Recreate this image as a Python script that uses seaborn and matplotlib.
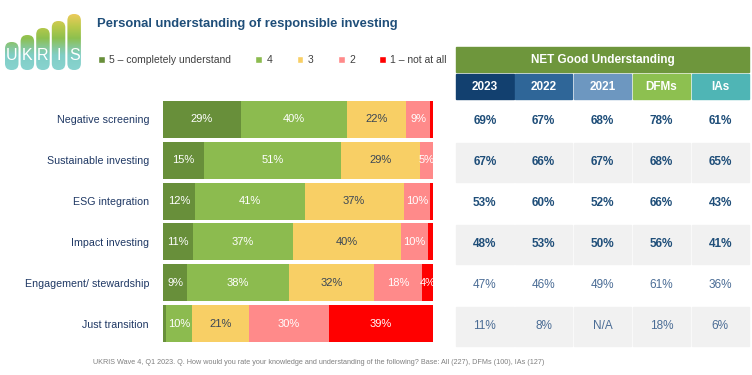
import numpy as np
import pandas as pd
import matplotlib
matplotlib.use("Agg")
import matplotlib.pyplot as plt
import seaborn as sns
from matplotlib.patches import Patch, Rectangle, FancyBboxPatch
from matplotlib.colors import LinearSegmentedColormap

# --- data ---
categories = ["Negative screening", "Sustainable investing", "ESG integration",
              "Impact investing", "Engagement/ stewardship", "Just transition"]
level5 = [29, 15, 12, 11, 9, 1]
level4 = [40, 51, 41, 37, 38, 10]
level3 = [22, 29, 37, 40, 32, 21]
level2 = [9, 5, 10, 10, 18, 30]
level1 = [1, 0, 1, 2, 4, 39]
level_names = ["5 – completely understand", "4", "3", "2", "1 – not at all"]

table_headers = ["2023", "2022", "2021", "DFMs", "IAs"]
net_2023 = ["69%", "67%", "53%", "48%", "47%", "11%"]
net_2022 = ["67%", "66%", "60%", "53%", "46%", "8%"]
net_2021 = ["68%", "67%", "52%", "50%", "49%", "N/A"]
net_dfms = ["78%", "68%", "66%", "56%", "61%", "18%"]
net_ias = ["61%", "65%", "43%", "41%", "36%", "6%"]

level_colors = ["#688F3A", "#8CBB4F", "#F8CF65", "#FF8A8A", "#FF0000"]
header_colors = ["#12406F", "#2F6698", "#6D97C0", "#8DC050", "#4FB5B5"]
navy = "#1F4E79"

sns.set_theme(style="white")
plt.rcParams["font.family"] = ["Liberation Sans", "DejaVu Sans"]

W, H = 752, 375
fig = plt.figure(figsize=(7.52, 3.75), dpi=100)

# background axes in pixel units for title, logo, table, footer
bg = fig.add_axes([0, 0, 1, 1])

# stacked bars (seaborn, cumulative overlay)
df = pd.DataFrame({"category": categories, "5": level5, "4": level4,
                   "3": level3, "2": level2, "1": level1})
cols = ["5", "4", "3", "2", "1"]
shares = df[cols].div(df[cols].sum(axis=1), axis=0) * 100
cum = shares.cumsum(axis=1)

ax = fig.add_axes([163 / W, 1 - 344 / H, 270 / W, 245 / H])
for i in reversed(range(5)):
    d = pd.DataFrame({"category": categories, "value": cum.iloc[:, i].values})
    sns.barplot(data=d, x="value", y="category", color=level_colors[i],
                saturation=1, width=0.91, errorbar=None, linewidth=0, ax=ax)

for r in range(len(categories)):
    left = 0
    for i, c in enumerate(cols):
        v = df.loc[r, c]
        s = shares.loc[r, c]
        if v >= 4:
            ax.text(left + s / 2, r, f"{v}%", ha="center", va="center", fontsize=8,
                    color="#3A4656" if c == "3" else "white")
        left += s

ax.set_xlim(0, 100)
ax.set_ylim(5.5, -0.5)
ax.set_xlabel("")
ax.set_ylabel("")
ax.set_xticks([])
ax.tick_params(axis="y", length=0, pad=10, labelsize=7.7, labelcolor="#1F3864")
sns.despine(ax=ax, left=True, bottom=True)

# legend
handles = [Patch(facecolor=c, label=l) for c, l in zip(level_colors, level_names)]
fig.legend(handles=handles, loc="center left", bbox_to_anchor=(98 / W, 1 - 60 / H),
           ncol=5, frameon=False, fontsize=7.5, handlelength=0.65, handleheight=0.65,
           handletextpad=0.45, columnspacing=2.3, borderpad=0, borderaxespad=0,
           labelcolor="#404040")

# title
bg.text(97, 24, "Personal understanding of responsible investing", fontsize=9.4,
        weight="bold", color=navy, va="center")

# logo
logo_cmap = LinearSegmentedColormap.from_list(
    "logo", [(0, "#F3CB5E"), (0.25, "#B9C94A"), (0.45, "#8DC04F"), (0.62, "#86C89A"),
             (0.75, "#80CEC6"), (1, "#88D3CF")])
grad = np.linspace(0, 1, 100).reshape(-1, 1)
for i, letter in enumerate("UKRIS"):
    x = 5 + i * 15.6
    top = 42 - i * 7
    patch = FancyBboxPatch((x, top), 13.5, 70 - top, boxstyle="round,pad=0,rounding_size=6.5",
                           fc="none", ec="none")
    bg.add_patch(patch)
    im = bg.imshow(grad, extent=(0, 90, 70, 12), cmap=logo_cmap, aspect="auto", zorder=1)
    im.set_clip_path(patch)
    bg.text(x + 6.75, 56, letter, color="white", fontsize=11.5,
            ha="center", va="center", zorder=2)

# table
tx0, cw, pitch = 456, 57.5, 58.9
bg.add_patch(Rectangle((tx0, 47), 4 * pitch + cw, 25, color="#6E963C"))
bg.text(tx0 + (4 * pitch + cw) / 2, 59.5, "NET Good Understanding", color="white",
        weight="bold", fontsize=8.5, ha="center", va="center")
table_cols = [net_2023, net_2022, net_2021, net_dfms, net_ias]
row_y0, row_pitch, row_h = 121, 41, 39
for j, (name, values) in enumerate(zip(table_headers, table_cols)):
    x = tx0 + j * pitch
    bg.add_patch(Rectangle((x, 74), cw, 25, color=header_colors[j]))
    bg.text(x + cw / 2, 86.5, name, color="white", weight="bold", fontsize=8.5,
            ha="center", va="center")
    for r, v in enumerate(values):
        yc = row_y0 + r * row_pitch
        if r % 2 == 1:
            bg.add_patch(Rectangle((x, yc - row_h / 2), cw, row_h, color="#F1F1F1"))
        bg.text(x + cw / 2, yc, v, ha="center", va="center", fontsize=8.5,
                weight="bold" if r < 4 else "normal",
                color=navy if r < 4 else "#4A6C95")

# footer
bg.text(93, 363, "UKRIS Wave 4, Q1 2023. Q. How would you rate your knowledge and understanding "
        "of the following? Base: All (227), DFMs (100), IAs (127)",
        fontsize=5.2, color="#808080", va="center")

bg.set_xlim(0, W)
bg.set_ylim(H, 0)
bg.axis("off")

fig.savefig("out.png", dpi=100)
